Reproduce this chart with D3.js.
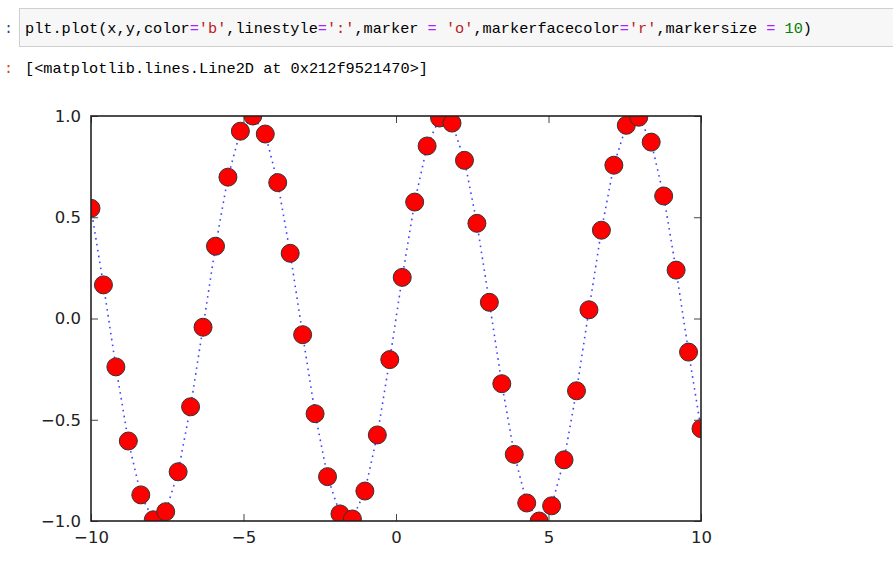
<!DOCTYPE html>
<html><head><meta charset="utf-8">
<script src="https://cdn.jsdelivr.net/npm/d3@7"></script>
<style>body{margin:0;background:#fff;}svg{display:block;}</style>
</head><body>
<script>
const xValues = [-10.000,-9.592,-9.184,-8.776,-8.367,-7.959,-7.551,-7.143,-6.735,-6.327,
  -5.918,-5.510,-5.102,-4.694,-4.286,-3.878,-3.469,-3.061,-2.653,-2.245,
  -1.837,-1.429,-1.020,-0.612,-0.204,0.204,0.612,1.020,1.429,1.837,
  2.245,2.653,3.061,3.469,3.878,4.286,4.694,5.102,5.510,5.918,
  6.327,6.735,7.143,7.551,7.959,8.367,8.776,9.184,9.592,10.000];
const yValues = [0.544,0.166,-0.239,-0.605,-0.871,-0.994,-0.954,-0.757,-0.436,-0.043,
  0.357,0.698,0.925,1.000,0.911,0.671,0.322,-0.080,-0.470,-0.781,
  -0.965,-0.990,-0.852,-0.575,-0.203,0.203,0.575,0.852,0.990,0.965,
  0.781,0.470,0.080,-0.322,-0.671,-0.911,-1.000,-0.925,-0.698,-0.357,
  0.043,0.436,0.757,0.954,0.994,0.871,0.605,0.239,-0.166,-0.544];
const xTicks = [-10,-5,0,5,10];
const yTicks = [-1.0,-0.5,0.0,0.5,1.0];
const codeLine = "plt.plot(x,y,color='b',linestyle=':',marker = 'o',markerfacecolor='r',markersize = 10)";
const outLine = "[<matplotlib.lines.Line2D at 0x212f9521470>]";

const W = 893, H = 584;
const svg = d3.select("body").append("svg").attr("width", W).attr("height", H);

// notebook cells
svg.append("rect").attr("x",19.5).attr("y",8.5).attr("width",880).attr("height",38)
  .attr("fill","#f7f7f7").attr("stroke","#cfcfcf");
svg.append("text").attr("x",4).attr("y",33).text(":").attr("fill","#303f9f")
  .attr("font-family","Liberation Mono, monospace").attr("font-size",15);
svg.append("text").attr("x",4).attr("y",73).text(":").attr("fill","#d84315")
  .attr("font-family","Liberation Mono, monospace").attr("font-size",15);

// code line with syntax coloring
const codeText = svg.append("text").attr("x",25).attr("y",33)
  .attr("font-family","Liberation Mono, monospace").attr("font-size",15)
  .attr("textLength",787).attr("lengthAdjust","spacingAndGlyphs").attr("fill","#000");
const tokens = codeLine.split(/('[^']*'|=|\d+)/).filter(s => s.length);
tokens.forEach(t => {
  let c = "#000";
  if (t === "=") c = "#aa22ff";
  else if (/^'/.test(t)) c = "#ba2121";
  else if (/^\d+$/.test(t)) c = "#008000";
  codeText.append("tspan").attr("fill", c).text(t);
});
svg.append("text").attr("x",25).attr("y",73).text(outLine)
  .attr("font-family","Liberation Mono, monospace").attr("font-size",15)
  .attr("textLength",403).attr("lengthAdjust","spacingAndGlyphs").attr("fill","#000");

// plot
const L = 91, R = 701, T = 116, B = 521;
const x = d3.scaleLinear().domain([-10,10]).range([L,R]);
const y = d3.scaleLinear().domain([-1,1]).range([B,T]);

svg.append("defs").append("clipPath").attr("id","clip")
  .append("rect").attr("x",L).attr("y",T).attr("width",R-L).attr("height",B-T);

const g = svg.append("g").attr("clip-path","url(#clip)");
const line = d3.line().x((d,i)=>x(xValues[i])).y(d=>y(d));
g.append("path").datum(yValues).attr("d",line).attr("fill","none")
  .attr("stroke","#0000ff").attr("stroke-opacity",0.75).attr("stroke-width",1.6)
  .attr("stroke-dasharray","1.6 4.4");
g.selectAll("circle").data(yValues).join("circle")
  .attr("cx",(d,i)=>x(xValues[i])).attr("cy",d=>y(d)).attr("r",9)
  .attr("fill","#ff0000").attr("stroke","#333").attr("stroke-width",1);

// axes with inward ticks
const fmtY = d => d3.format(".1f")(d).replace("-","\u2212");
const fmtX = d => String(d).replace("-","\u2212");
const axB = svg.append("g").attr("transform",`translate(0,${B})`)
  .call(d3.axisBottom(x).tickValues(xTicks).tickFormat(fmtX).tickSizeInner(-7).tickSizeOuter(0).tickPadding(10));
const axT = svg.append("g").attr("transform",`translate(0,${T})`)
  .call(d3.axisTop(x).tickValues(xTicks).tickFormat("").tickSizeInner(-7).tickSizeOuter(0));
const axL = svg.append("g").attr("transform",`translate(${L},0)`)
  .call(d3.axisLeft(y).tickValues(yTicks).tickFormat(fmtY).tickSizeInner(-7).tickSizeOuter(0).tickPadding(10));
const axR = svg.append("g").attr("transform",`translate(${R},0)`)
  .call(d3.axisRight(y).tickValues(yTicks).tickFormat("").tickSizeInner(-7).tickSizeOuter(0));
[axB,axT,axL,axR].forEach(a => {
  a.select(".domain").remove();
  a.selectAll(".tick line").attr("stroke","#444").attr("stroke-width",1);
  a.selectAll(".tick text").attr("font-family","DejaVu Sans, sans-serif")
    .attr("font-size",16.5).attr("fill","#222");
});
svg.append("rect").attr("x",L).attr("y",T).attr("width",R-L).attr("height",B-T)
  .attr("fill","none").attr("stroke","#222").attr("stroke-width",1.6);
</script>
</body></html>
